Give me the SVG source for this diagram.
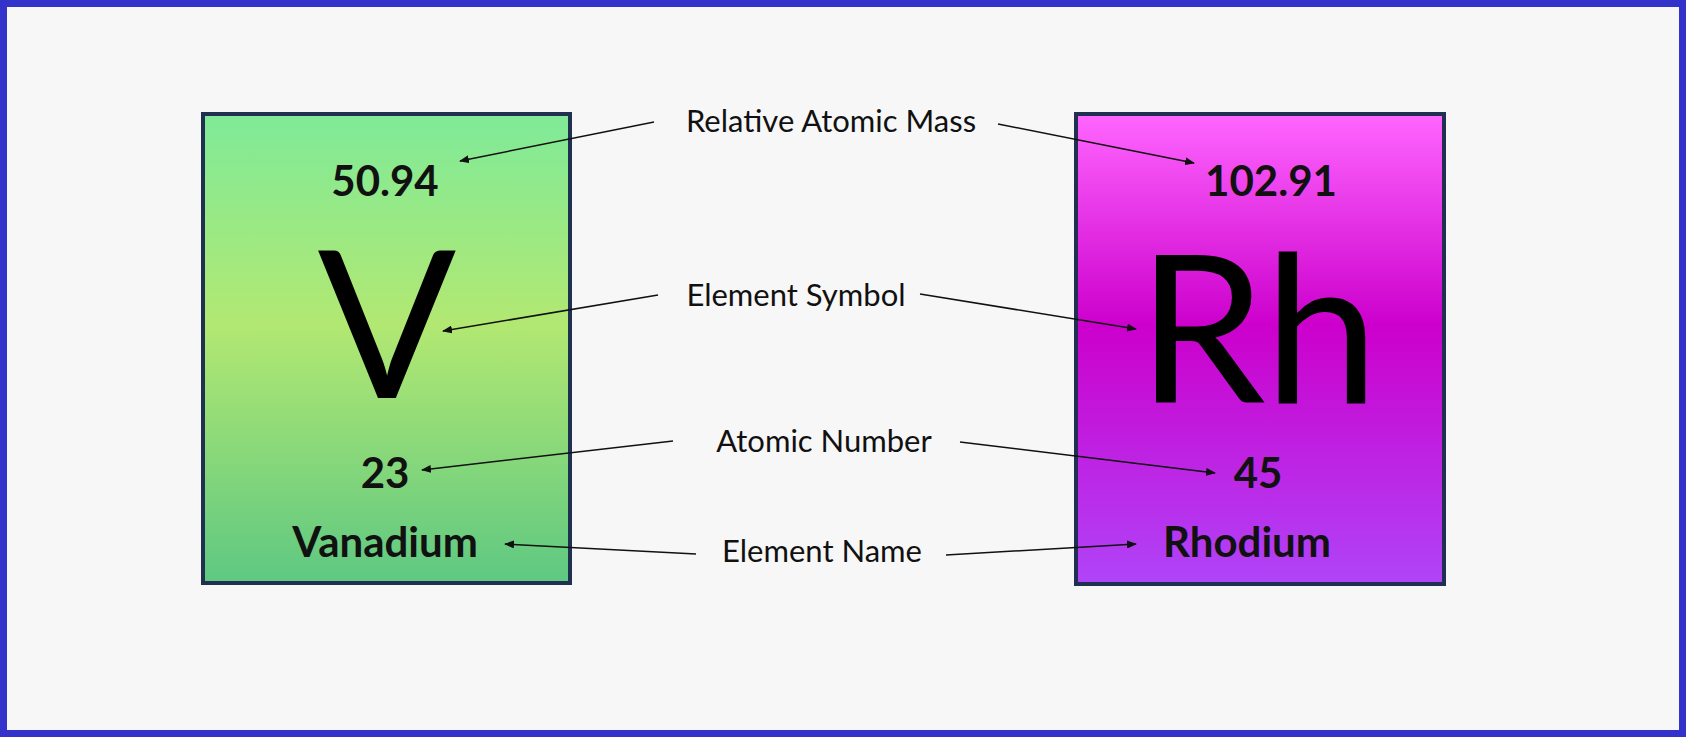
<svg xmlns="http://www.w3.org/2000/svg" width="1686" height="737" viewBox="0 0 1686 737">
<style>
.box{stroke:#1f3050;stroke-width:4}
.b{font-family:Lato,"Open Sans",sans-serif;font-weight:bold;font-size:42px;fill:#111;text-anchor:middle}
.sym{font-family:Lato,"Open Sans",sans-serif;font-size:205px;fill:#000;text-anchor:middle}
.l{font-family:Lato,"Open Sans",sans-serif;font-size:31px;fill:#111;text-anchor:middle}
.c{stroke:#111;stroke-width:1.5;fill:none;marker-end:url(#ah)}
</style>
<defs>
<linearGradient id="g1" x1="0" y1="0" x2="0" y2="1"><stop offset="0" stop-color="#7fea98"/><stop offset="0.45" stop-color="#b2e872"/><stop offset="1" stop-color="#5ec882"/></linearGradient>
<linearGradient id="g2" x1="0" y1="0" x2="0" y2="1"><stop offset="0" stop-color="#ff66ff"/><stop offset="0.45" stop-color="#cc00cc"/><stop offset="1" stop-color="#b044f8"/></linearGradient>
<marker id="ah" markerWidth="10" markerHeight="8" refX="9" refY="4" orient="auto" markerUnits="userSpaceOnUse"><path d="M0,0L10,4L0,8z" fill="#111"/></marker>
</defs>
<rect x="3.5" y="3.5" width="1679" height="730" fill="#f7f7f7" stroke="#3333cc" stroke-width="7"/>
<g id="vanadium">
<rect class="box" x="203" y="114" width="367" height="469" fill="url(#g1)"/>
<text class="b" x="385" y="196">50.94</text>
<text class="sym" x="387" y="398">V</text>
<text class="b" x="385" y="488">23</text>
<text class="b" x="385" y="557">Vanadium</text>
</g>
<g id="rhodium">
<rect class="box" x="1076" y="114" width="368" height="470" fill="url(#g2)"/>
<text class="b" x="1271" y="196">102.91</text>
<text class="sym" x="1258" y="403">Rh</text>
<text class="b" x="1258" y="488">45</text>
<text class="b" x="1247" y="557">Rhodium</text>
</g>
<g id="labels">
<text class="l" x="831" y="132">Relative Atomic Mass</text>
<text class="l" x="796" y="306">Element Symbol</text>
<text class="l" x="824" y="452">Atomic Number</text>
<text class="l" x="822" y="562">Element Name</text>
</g>
<g id="connectors">
<line class="c" x1="654" y1="122" x2="460" y2="161"/>
<line class="c" x1="998" y1="124" x2="1194" y2="163"/>
<line class="c" x1="658" y1="295" x2="443" y2="331"/>
<line class="c" x1="920" y1="294" x2="1136" y2="329"/>
<line class="c" x1="673" y1="441" x2="422" y2="470"/>
<line class="c" x1="960" y1="442" x2="1215" y2="473"/>
<line class="c" x1="696" y1="554" x2="505" y2="544"/>
<line class="c" x1="946" y1="555" x2="1136" y2="544"/>
</g>
</svg>
